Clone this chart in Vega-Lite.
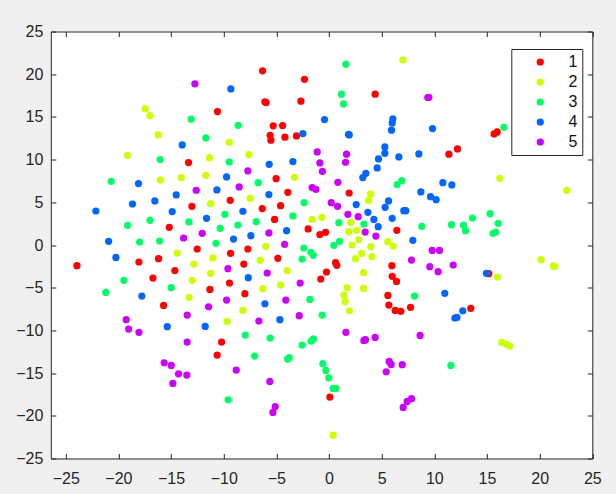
{"$schema":"https://vega.github.io/schema/vega-lite/v6.json","width":541.5,"height":427,"autosize":"none","padding":{"left":50.8,"top":31.5,"right":23.7,"bottom":35.5},"background":"#f0f0f0","view":{"fill":"white","stroke":null},
"config":{"axis":{"grid":false,"domainColor":"#262626","tickColor":"#262626","labelColor":"#262626","labelFont":"Liberation Sans","labelFontSize":16,"tickSize":-5,"domainWidth":1,"tickWidth":1,"title":null,"labelFlush":false,"labelOverlap":false}},
"layer":[{"data":{"values":[
{"x":-6.31,"y":20.4,"g":"1"},{"x":-2.33,"y":19.4,"g":"1"},{"x":-6.09,"y":16.76,"g":"1"},{"x":-5.97,"y":16.68,"g":"1"},{"x":-2.67,"y":16.84,"g":"1"},{"x":-10.59,"y":15.63,"g":"1"},{"x":-5.3,"y":13.95,"g":"1"},{"x":-4.41,"y":13.98,"g":"1"},{"x":-5.59,"y":12.85,"g":"1"},{"x":-4.19,"y":12.62,"g":"1"},{"x":-3.09,"y":12.77,"g":"1"},{"x":-5.52,"y":12.27,"g":"1"},{"x":-13.34,"y":9.65,"g":"1"},{"x":-5.02,"y":7.77,"g":"1"},{"x":-3.91,"y":6.17,"g":"1"},{"x":-9.38,"y":5.23,"g":"1"},{"x":-13.02,"y":4.53,"g":"1"},{"x":-4.6,"y":4.61,"g":"1"},{"x":-6.34,"y":4.26,"g":"1"},{"x":-5.17,"y":3.0,"g":"1"},{"x":-15.17,"y":2.07,"g":"1"},{"x":-1.98,"y":1.88,"g":"1"},{"x":-0.87,"y":1.23,"g":"1"},{"x":-23.94,"y":-2.42,"g":"1"},{"x":-12.52,"y":-0.47,"g":"1"},{"x":-7.71,"y":-0.47,"g":"1"},{"x":-9.35,"y":-0.98,"g":"1"},{"x":-16.19,"y":-1.6,"g":"1"},{"x":-18.05,"y":-1.99,"g":"1"},{"x":-4.86,"y":-1.56,"g":"1"},{"x":-8.09,"y":-2.23,"g":"1"},{"x":-14.64,"y":-3.0,"g":"1"},{"x":-16.72,"y":-3.87,"g":"1"},{"x":-9.45,"y":-4.45,"g":"1"},{"x":-11.31,"y":-5.2,"g":"1"},{"x":-7.99,"y":-5.7,"g":"1"},{"x":-15.71,"y":-7.07,"g":"1"},{"x":-10.2,"y":-11.37,"g":"1"},{"x":-10.62,"y":-12.89,"g":"1"},{"x":0.62,"y":-2.07,"g":"1"},{"x":0.74,"y":-2.38,"g":"1"},{"x":-0.24,"y":-3.16,"g":"1"},{"x":-0.78,"y":-3.98,"g":"1"},{"x":5.97,"y":-2.42,"g":"1"},{"x":6.0,"y":-3.67,"g":"1"},{"x":6.41,"y":-4.26,"g":"1"},{"x":5.59,"y":-5.9,"g":"1"},{"x":5.68,"y":-7.03,"g":"1"},{"x":6.28,"y":-7.66,"g":"1"},{"x":6.82,"y":-7.77,"g":"1"},{"x":7.74,"y":-7.3,"g":"1"},{"x":13.46,"y":-7.42,"g":"1"},{"x":15.17,"y":-3.36,"g":"1"},{"x":0.08,"y":-17.81,"g":"1"},{"x":4.38,"y":17.66,"g":"1"},{"x":15.68,"y":13.0,"g":"1"},{"x":15.97,"y":13.24,"g":"1"},{"x":11.38,"y":10.63,"g":"1"},{"x":12.2,"y":11.25,"g":"1"},{"x":1.91,"y":6.09,"g":"1"},{"x":6.44,"y":1.72,"g":"1"},{"x":-0.33,"y":1.48,"g":"1"},
{"x":-17.45,"y":15.94,"g":"2"},{"x":-17.01,"y":15.16,"g":"2"},{"x":-16.22,"y":12.89,"g":"2"},{"x":-19.13,"y":10.51,"g":"2"},{"x":-9.48,"y":12.03,"g":"2"},{"x":-11.35,"y":10.23,"g":"2"},{"x":-7.61,"y":10.59,"g":"2"},{"x":-11.69,"y":8.16,"g":"2"},{"x":-14.03,"y":7.89,"g":"2"},{"x":-16.0,"y":7.62,"g":"2"},{"x":-3.28,"y":7.93,"g":"2"},{"x":-11.25,"y":4.84,"g":"2"},{"x":-7.48,"y":5.47,"g":"2"},{"x":-1.6,"y":3.0,"g":"2"},{"x":-0.68,"y":3.24,"g":"2"},{"x":-6.0,"y":-0.16,"g":"2"},{"x":-14.41,"y":-0.94,"g":"2"},{"x":-11.03,"y":-1.52,"g":"2"},{"x":-12.83,"y":-2.23,"g":"2"},{"x":-6.53,"y":-1.8,"g":"2"},{"x":-11.25,"y":-3.32,"g":"2"},{"x":-3.97,"y":-3.0,"g":"2"},{"x":-12.99,"y":-4.14,"g":"2"},{"x":-4.6,"y":-4.69,"g":"2"},{"x":-6.28,"y":-5.12,"g":"2"},{"x":-13.28,"y":-6.13,"g":"2"},{"x":-8.18,"y":-7.66,"g":"2"},{"x":-9.67,"y":-8.95,"g":"2"},{"x":7.01,"y":21.68,"g":"2"},{"x":16.22,"y":7.81,"g":"2"},{"x":22.58,"y":6.41,"g":"2"},{"x":3.94,"y":5.98,"g":"2"},{"x":3.75,"y":5.23,"g":"2"},{"x":2.07,"y":2.66,"g":"2"},{"x":1.88,"y":1.56,"g":"2"},{"x":2.64,"y":1.72,"g":"2"},{"x":2.83,"y":0.63,"g":"2"},{"x":2.2,"y":0.0,"g":"2"},{"x":3.97,"y":-0.2,"g":"2"},{"x":5.58,"y":0.39,"g":"2"},{"x":6.09,"y":-0.12,"g":"2"},{"x":3.09,"y":-0.98,"g":"2"},{"x":2.52,"y":-1.6,"g":"2"},{"x":4.07,"y":-1.37,"g":"2"},{"x":3.28,"y":-3.24,"g":"2"},{"x":1.72,"y":-5.0,"g":"2"},{"x":3.28,"y":-5.08,"g":"2"},{"x":1.41,"y":-5.86,"g":"2"},{"x":1.53,"y":-6.64,"g":"2"},{"x":1.95,"y":-7.7,"g":"2"},{"x":20.14,"y":-1.72,"g":"2"},{"x":21.44,"y":-2.5,"g":"2"},{"x":21.3,"y":-2.45,"g":"2"},{"x":16.0,"y":-3.75,"g":"2"},{"x":16.41,"y":-11.41,"g":"2"},{"x":16.82,"y":-11.6,"g":"2"},{"x":17.17,"y":-11.84,"g":"2"},{"x":0.4,"y":-22.27,"g":"2"},
{"x":-13.09,"y":14.73,"g":"3"},{"x":-8.62,"y":14.02,"g":"3"},{"x":-11.69,"y":12.54,"g":"3"},{"x":-16.03,"y":10.0,"g":"3"},{"x":-9.48,"y":9.73,"g":"3"},{"x":-20.68,"y":7.46,"g":"3"},{"x":-6.72,"y":7.3,"g":"3"},{"x":-2.36,"y":4.96,"g":"3"},{"x":-9.89,"y":3.59,"g":"3"},{"x":-17.0,"y":2.89,"g":"3"},{"x":-13.31,"y":2.7,"g":"3"},{"x":-6.91,"y":2.73,"g":"3"},{"x":-3.43,"y":3.4,"g":"3"},{"x":-19.13,"y":2.3,"g":"3"},{"x":-8.65,"y":2.34,"g":"3"},{"x":-10.33,"y":1.95,"g":"3"},{"x":-17.99,"y":0.35,"g":"3"},{"x":-16.09,"y":0.47,"g":"3"},{"x":-10.74,"y":0.2,"g":"3"},{"x":-2.39,"y":-0.35,"g":"3"},{"x":-1.72,"y":-0.86,"g":"3"},{"x":-1.5,"y":-1.21,"g":"3"},{"x":-2.55,"y":-1.64,"g":"3"},{"x":-19.48,"y":-4.14,"g":"3"},{"x":-21.19,"y":-5.55,"g":"3"},{"x":-14.98,"y":-5.0,"g":"3"},{"x":-1.82,"y":-6.37,"g":"3"},{"x":-0.65,"y":-8.2,"g":"3"},{"x":-7.96,"y":-10.55,"g":"3"},{"x":-5.59,"y":-10.9,"g":"3"},{"x":-2.55,"y":-11.72,"g":"3"},{"x":-1.69,"y":-11.25,"g":"3"},{"x":-1.47,"y":-10.98,"g":"3"},{"x":-7.07,"y":-13.0,"g":"3"},{"x":-3.94,"y":-13.36,"g":"3"},{"x":-3.78,"y":-13.2,"g":"3"},{"x":-9.57,"y":-18.12,"g":"3"},{"x":-0.59,"y":-13.9,"g":"3"},{"x":-0.3,"y":-14.69,"g":"3"},{"x":-0.02,"y":-15.55,"g":"3"},{"x":0.4,"y":-16.8,"g":"3"},{"x":0.65,"y":-16.8,"g":"3"},{"x":11.57,"y":-14.1,"g":"3"},{"x":8.12,"y":-5.98,"g":"3"},{"x":0.46,"y":-0.04,"g":"3"},{"x":1.0,"y":0.43,"g":"3"},{"x":1.6,"y":21.17,"g":"3"},{"x":1.18,"y":17.66,"g":"3"},{"x":1.38,"y":16.52,"g":"3"},{"x":16.6,"y":13.79,"g":"3"},{"x":6.47,"y":7.07,"g":"3"},{"x":6.91,"y":7.54,"g":"3"},{"x":15.3,"y":3.67,"g":"3"},{"x":13.62,"y":3.16,"g":"3"},{"x":16.06,"y":2.54,"g":"3"},{"x":11.63,"y":2.38,"g":"3"},{"x":12.77,"y":2.34,"g":"3"},{"x":12.96,"y":1.68,"g":"3"},{"x":15.58,"y":1.37,"g":"3"},{"x":15.84,"y":1.52,"g":"3"},{"x":8.81,"y":2.19,"g":"3"},{"x":0.93,"y":2.62,"g":"3"},{"x":3.31,"y":2.46,"g":"3"},
{"x":-9.32,"y":18.28,"g":"4"},{"x":-2.48,"y":13.05,"g":"4"},{"x":-13.94,"y":11.72,"g":"4"},{"x":-5.68,"y":9.45,"g":"4"},{"x":-3.43,"y":9.77,"g":"4"},{"x":-9.73,"y":7.97,"g":"4"},{"x":-18.09,"y":7.19,"g":"4"},{"x":-14.51,"y":5.86,"g":"4"},{"x":-10.65,"y":6.45,"g":"4"},{"x":-5.71,"y":5.9,"g":"4"},{"x":-16.54,"y":5.16,"g":"4"},{"x":-18.66,"y":4.8,"g":"4"},{"x":-22.14,"y":3.98,"g":"4"},{"x":-14.89,"y":3.91,"g":"4"},{"x":-8.18,"y":3.95,"g":"4"},{"x":-11.63,"y":3.13,"g":"4"},{"x":-4.03,"y":1.68,"g":"4"},{"x":-7.42,"y":1.09,"g":"4"},{"x":-9.07,"y":0.7,"g":"4"},{"x":-20.93,"y":0.43,"g":"4"},{"x":-20.24,"y":-1.45,"g":"4"},{"x":-7.67,"y":-3.83,"g":"4"},{"x":-17.77,"y":-5.98,"g":"4"},{"x":-6.09,"y":-6.88,"g":"4"},{"x":-4.67,"y":-8.75,"g":"4"},{"x":-15.36,"y":-9.57,"g":"4"},{"x":-11.76,"y":-9.53,"g":"4"},{"x":-0.43,"y":14.69,"g":"4"},{"x":6.06,"y":14.77,"g":"4"},{"x":6.0,"y":14.3,"g":"4"},{"x":5.93,"y":13.44,"g":"4"},{"x":9.83,"y":13.63,"g":"4"},{"x":1.85,"y":12.97,"g":"4"},{"x":1.92,"y":12.89,"g":"4"},{"x":5.3,"y":11.48,"g":"4"},{"x":5.3,"y":10.74,"g":"4"},{"x":4.7,"y":10.08,"g":"4"},{"x":6.63,"y":10.31,"g":"4"},{"x":8.53,"y":10.66,"g":"4"},{"x":4.57,"y":9.02,"g":"4"},{"x":3.5,"y":8.4,"g":"4"},{"x":3.21,"y":7.89,"g":"4"},{"x":10.81,"y":7.3,"g":"4"},{"x":11.66,"y":7.03,"g":"4"},{"x":8.72,"y":6.21,"g":"4"},{"x":9.64,"y":5.66,"g":"4"},{"x":10.17,"y":5.31,"g":"4"},{"x":5.65,"y":5.16,"g":"4"},{"x":5.33,"y":4.41,"g":"4"},{"x":2.58,"y":4.73,"g":"4"},{"x":3.69,"y":3.83,"g":"4"},{"x":7.1,"y":4.02,"g":"4"},{"x":7.29,"y":4.02,"g":"4"},{"x":4.26,"y":3.0,"g":"4"},{"x":6.0,"y":3.13,"g":"4"},{"x":4.67,"y":2.15,"g":"4"},{"x":7.96,"y":0.55,"g":"4"},{"x":10.99,"y":-5.66,"g":"4"},{"x":14.95,"y":-3.32,"g":"4"},{"x":12.7,"y":-7.7,"g":"4"},{"x":12.14,"y":-8.48,"g":"4"},{"x":11.95,"y":-8.55,"g":"4"},
{"x":-12.74,"y":18.87,"g":"5"},{"x":-7.71,"y":8.67,"g":"5"},{"x":-8.53,"y":6.8,"g":"5"},{"x":-12.61,"y":6.41,"g":"5"},{"x":-1.6,"y":6.72,"g":"5"},{"x":-1.25,"y":6.52,"g":"5"},{"x":-1.12,"y":10.9,"g":"5"},{"x":-0.87,"y":9.61,"g":"5"},{"x":-0.63,"y":8.63,"g":"5"},{"x":-5.71,"y":1.41,"g":"5"},{"x":-12.04,"y":1.37,"g":"5"},{"x":-13.81,"y":0.82,"g":"5"},{"x":-4.22,"y":0.08,"g":"5"},{"x":9.48,"y":17.3,"g":"5"},{"x":9.38,"y":17.27,"g":"5"},{"x":1.66,"y":10.63,"g":"5"},{"x":1.57,"y":9.69,"g":"5"},{"x":0.84,"y":7.34,"g":"5"},{"x":0.21,"y":4.96,"g":"5"},{"x":0.81,"y":4.53,"g":"5"},{"x":1.79,"y":3.59,"g":"5"},{"x":2.77,"y":3.32,"g":"5"},{"x":3.43,"y":1.52,"g":"5"},{"x":4.45,"y":1.05,"g":"5"},{"x":9.8,"y":-0.63,"g":"5"},{"x":10.49,"y":-0.63,"g":"5"},{"x":7.83,"y":-1.76,"g":"5"},{"x":9.57,"y":-2.54,"g":"5"},{"x":10.36,"y":-3.13,"g":"5"},{"x":11.79,"y":-2.34,"g":"5"},{"x":1.6,"y":-10.23,"g":"5"},{"x":3.31,"y":-11.17,"g":"5"},{"x":3.46,"y":-11.09,"g":"5"},{"x":4.38,"y":-10.82,"g":"5"},{"x":8.65,"y":-10.59,"g":"5"},{"x":5.71,"y":-13.63,"g":"5"},{"x":5.9,"y":-13.98,"g":"5"},{"x":6.95,"y":-14.02,"g":"5"},{"x":5.43,"y":-14.84,"g":"5"},{"x":7.83,"y":-18.0,"g":"5"},{"x":7.42,"y":-18.32,"g":"5"},{"x":7.04,"y":-19.02,"g":"5"},{"x":-9.6,"y":-2.77,"g":"5"},{"x":-5.87,"y":-3.28,"g":"5"},{"x":-2.74,"y":-4.45,"g":"5"},{"x":-9.73,"y":-6.45,"g":"5"},{"x":-4.1,"y":-6.45,"g":"5"},{"x":-11.44,"y":-7.23,"g":"5"},{"x":-13.47,"y":-8.2,"g":"5"},{"x":-2.83,"y":-8.28,"g":"5"},{"x":-6.66,"y":-8.9,"g":"5"},{"x":-19.26,"y":-8.75,"g":"5"},{"x":-19.03,"y":-9.84,"g":"5"},{"x":-18.05,"y":-10.23,"g":"5"},{"x":-13.47,"y":-11.37,"g":"5"},{"x":-15.65,"y":-13.79,"g":"5"},{"x":-14.98,"y":-14.1,"g":"5"},{"x":-14.29,"y":-15.08,"g":"5"},{"x":-13.5,"y":-15.23,"g":"5"},{"x":-14.83,"y":-16.21,"g":"5"},{"x":-8.81,"y":-14.65,"g":"5"},{"x":-5.62,"y":-15.98,"g":"5"},{"x":-5.11,"y":-18.91,"g":"5"},{"x":-5.33,"y":-19.61,"g":"5"}
]},"mark":{"type":"circle","size":52,"opacity":1},
"encoding":{"x":{"field":"x","type":"quantitative","scale":{"domain":[-26.42,25],"nice":false,"zero":false},"axis":{"orient":"bottom","values":[-25,-20,-15,-10,-5,0,5,10,15,20,25],"labelPadding":16.5,"format":"d"}},
"y":{"field":"y","type":"quantitative","scale":{"domain":[-25,25],"nice":false,"zero":false},"axis":{"orient":"left","values":[-25,-20,-15,-10,-5,0,5,10,15,20,25],"labelPadding":13,"format":"d"}},
"color":{"field":"g","type":"nominal","scale":{"domain":["1","2","3","4","5"],"range":["#ff0000","#ccff00","#00ff66","#0066ff","#cc00ff"]},
"legend":{"title":null,"orient":"none","legendX":460.5,"legendY":17.5,"fillColor":"white","strokeColor":"#262626","padding":5,"symbolOffset":16,"labelOffset":29,"labelAlign":"right","labelFont":"Liberation Sans","labelFontSize":16,"labelColor":"#111111","rowPadding":4,"symbolType":"circle","symbolSize":52,"symbolStrokeWidth":0,"labelLimit":60,"symbolOpacity":1}}}},
{"data":{"values":[{"x":0,"y":0}]},"mark":{"type":"circle","opacity":0},
"encoding":{"x":{"field":"x","type":"quantitative","axis":{"orient":"top","values":[-25,-20,-15,-10,-5,0,5,10,15,20,25],"labels":false}},
"y":{"field":"y","type":"quantitative","axis":{"orient":"right","values":[-25,-20,-15,-10,-5,0,5,10,15,20,25],"labels":false}}}}],
"resolve":{"axis":{"x":"independent","y":"independent"}}}
